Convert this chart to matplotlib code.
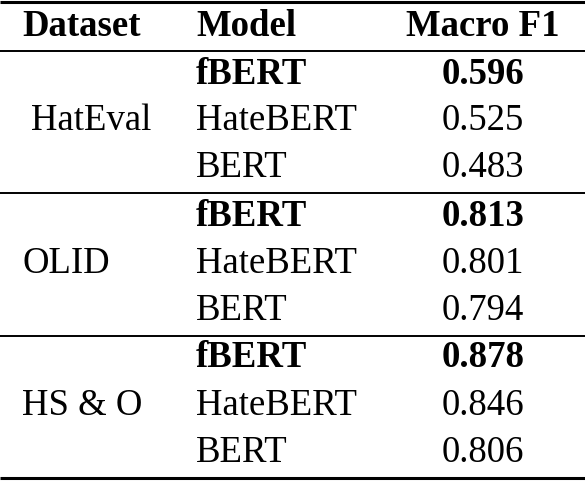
import matplotlib.pyplot as plt

# ---table data--- #
headers = ['Dataset', 'Model', 'Macro F1']
datasets = ['HatEval', 'OLID', 'HS & O']
models = ['fBERT', 'HateBERT', 'BERT']
scores = [
    [0.596, 0.525, 0.483],
    [0.813, 0.801, 0.794],
    [0.878, 0.846, 0.806],
]

# ---layout (pixel coords, baselines)--- #
W, H = 585, 482
fs = 26.5
font = 'Liberation Serif'
header_y = 36
row_y = [[84, 130, 177], [226, 273, 320], [367, 415, 462]]
dataset_x = [31, 22, 22]
header_x = 22
model_x = 196
score_x = 483
rules = [(1.5, 2.2), (50.7, 1.4), (193, 1.4), (336, 1.4), (477.5, 2.2)]

fig = plt.figure(figsize=(W / 100, H / 100), dpi=100)
ax = fig.add_axes([0, 0, 1, 1])
ax.set_xlim(0, W)
ax.set_ylim(H, 0)
ax.axis('off')

for y, lw in rules:
    ax.plot([0, W], [y, y], color='black', lw=lw, solid_capstyle='butt')

ax.text(header_x, header_y, headers[0], fontsize=fs, fontweight='bold',
        family=font, va='baseline', ha='left')
ax.text(model_x, header_y, headers[1], fontsize=fs, fontweight='bold',
        family=font, va='baseline', ha='left')
ax.text(score_x, header_y, headers[2], fontsize=fs, fontweight='bold',
        family=font, va='baseline', ha='center')

for g, name in enumerate(datasets):
    ax.text(dataset_x[g], row_y[g][1], name, fontsize=fs, family=font,
            va='baseline', ha='left')
    best = max(scores[g])
    for r, m in enumerate(models):
        wt = 'bold' if scores[g][r] == best else 'normal'
        ax.text(model_x, row_y[g][r], m, fontsize=fs, fontweight=wt,
                family=font, va='baseline', ha='left')
        ax.text(score_x, row_y[g][r], '%.3f' % scores[g][r], fontsize=fs,
                fontweight=wt, family=font, va='baseline', ha='center')

plt.savefig('out.png', dpi=100)
